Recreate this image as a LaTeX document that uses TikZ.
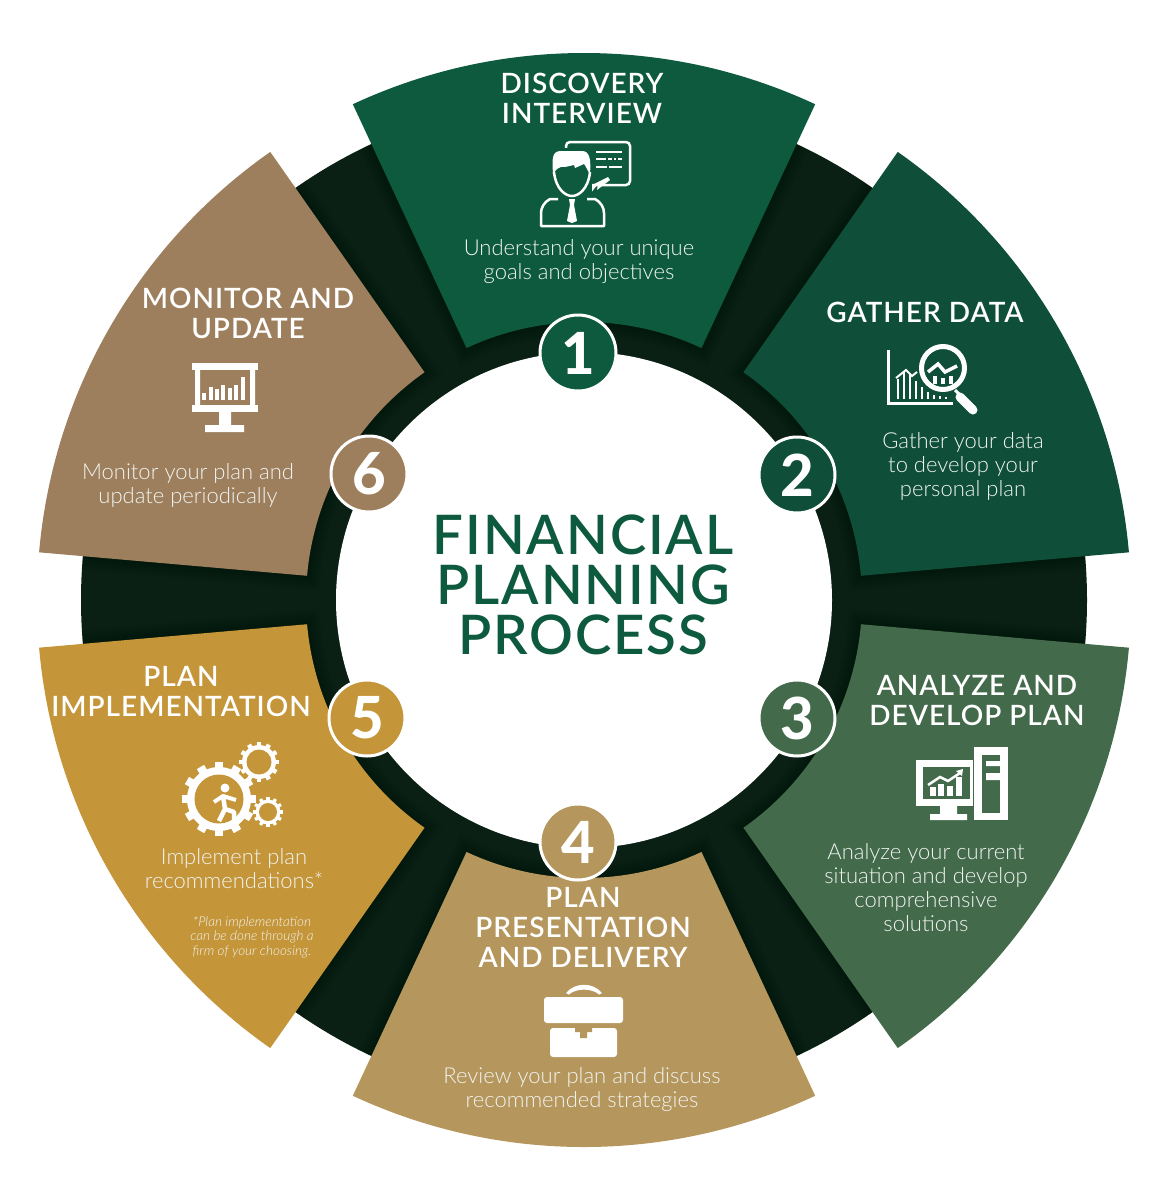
\documentclass[tikz,border=0pt]{standalone}
\usepackage{fontspec}
\setmainfont{Lato Light}[BoldFont=Lato Semibold,ItalicFont=Lato Light Italic]
\newfontfamily\numfont{Lato Heavy}
\newfontfamily\headfont{Lato Semibold}[LetterSpace=3.5]
\definecolor{ringdark}{HTML}{0B2014}
\definecolor{stepone}{HTML}{0E5A3E}
\definecolor{steptwo}{HTML}{0F4F39}
\definecolor{stepthree}{HTML}{436A4A}
\definecolor{stepfour}{HTML}{B5965C}
\definecolor{stepfive}{HTML}{C49539}
\definecolor{stepsix}{HTML}{9D7F5D}
\definecolor{bodytext}{HTML}{F1F4F1}
\tikzset{
  headtext/.style={text=white,font=\headfont\fontsize{28}{30}\selectfont,align=center,inner sep=0pt},
  bodynote/.style={text=bodytext,font=\fontsize{22}{24}\selectfont,align=center,inner sep=0pt},
  badge/.style={circle,draw=white,line width=3pt,minimum size=76pt,inner sep=0pt,text=white,font=\numfont\fontsize{58}{58}\selectfont},
  ico/.style={white,line width=2.5pt}
}
% one sector of the wheel, colour and middle angle
\newcommand{\sector}[2]{
  \fill[#1] (#2-25:278) -- (#2-25:547) arc[start angle=#2-25,end angle=#2+25,radius=547]
    -- (#2+25:278) arc[start angle=#2+25,end angle=#2-25,radius=278] -- cycle;
}
% cog wheel: x, y, outer, root, hole, teeth, back colour
\newcommand{\cogwheel}[7]{
  \pgfmathsetmacro{\toothstep}{360/#6}
  \pgfmathsetmacro{\toothwd}{0.5*3.14*2*#4/#6}
  \foreach \t in {1,...,#6}
    \draw[white,line width=\toothwd pt] (#1,#2) ++(\t*\toothstep:#4-1) -- ++(\t*\toothstep:#3-#4+1);
  \fill[white] (#1,#2) circle (#4);
  \fill[#7] (#1,#2) circle (#5);
}
\begin{document}
\begin{tikzpicture}[x=1pt,y=-1pt]
  \useasboundingbox (0,0) rectangle (1163,1200);
  \begin{scope}[shift={(584,600)},y=1pt]
    \fill[ringdark] (0,0) circle (503);
    \begin{scope}
      \clip (0,0) circle (503);
      \foreach \i in {1,...,8}
        \foreach \ang in {90,30,-30,-90,-150,150}
          \draw[black,opacity=0.025,line width=\i*3.5pt] (\ang-25:278) -- (\ang-25:547) arc[start angle=\ang-25,end angle=\ang+25,radius=547]
            -- (\ang+25:278) arc[start angle=\ang+25,end angle=\ang-25,radius=278] -- cycle;
    \end{scope}
    \fill[white] (0,0) circle (248);
    \sector{stepone}{90}
    \sector{steptwo}{30}
    \sector{stepthree}{-30}
    \sector{stepfour}{-90}
    \sector{stepfive}{-150}
    \sector{stepsix}{150}
  \end{scope}

  \node[badge,fill=stepone] (num1) at (578,353) {1};
  \node[badge,fill=steptwo] (num2) at (797,475) {2};
  \node[badge,fill=stepthree] (num3) at (797,718) {3};
  \node[badge,fill=stepfour] (num4) at (578,842) {4};
  \node[badge,fill=stepfive] (num5) at (367,718) {5};
  \node[badge,fill=stepsix] (num6) at (369,474) {6};

  \node[text=stepone,align=center,inner sep=0pt,font=\headfont\fontsize{54.5}{50}\selectfont] (title) at (583,585) {FINANCIAL\\PLANNING\\PROCESS};

  \node[headtext] (head1) at (582,98) {DISCOVERY\\INTERVIEW};
  \node[bodynote] (body1) at (579,262) {Understand your unique\\goals and objectives};
  \node[headtext] (head2) at (925,312) {GATHER DATA};
  \node[bodynote] (body2) at (963,466) {Gather your data\\to develop your\\personal plan};
  \node[headtext] (head3) at (977,701) {ANALYZE AND\\DEVELOP PLAN};
  \node[bodynote] (body3) at (926,888) {Analyze your current\\situation and develop\\comprehensive\\solutions};
  \node[headtext] (head4) at (583,927) {PLAN\\PRESENTATION\\AND DELIVERY};
  \node[bodynote] (body4) at (582,1090) {Review your plan and discuss\\recommended strategies};
  \node[headtext] (head5) at (181,692) {PLAN\\IMPLEMENTATION};
  \node[bodynote] (body5) at (234,869) {Implement plan\\recommendations*};
  \node[text=bodytext,align=center,inner sep=0pt,font=\itshape\fontsize{13.5}{14.5}\selectfont] (note5) at (252,937) {*Plan implementation\\can be done through a\\firm of your choosing.};
  \node[headtext] (head6) at (248,313) {MONITOR AND\\UPDATE};
  \node[bodynote] (body6) at (188,485) {Monitor your plan and\\update periodically};

  % person with speech bubble
  \draw[ico,rounded corners=4pt] (566,142) rectangle (630,185);
  \draw[white,line width=2pt] (596,152) -- (622,152) (596,159) -- (606,159) (608,159) -- (612,159) (614,159) -- (616,159) (618,159) -- (622,159) (596,167) -- (607,167) (609,167) -- (622,167);
  \fill[white] (608,177) -- (610,180) -- (597,190) -- (598,184) -- (590,194) -- (592,185) -- cycle;
  \fill[stepone] (550,148) rectangle (592,196);
  \draw[ico] (554,172) .. controls (556,190) and (566,196) .. (572,196) .. controls (578,196) and (588,190) .. (590,172);
  \fill[white] (553,174) .. controls (552,158) and (552,152) .. (560,151) -- (582,151) .. controls (590,151) and (591,160) .. (590,174) .. controls (587,170) and (586,166) .. (584,164) -- (575,168) -- (574,165) -- (565,167) .. controls (558,166) and (556,170) .. (553,174) -- cycle;
  \draw[ico,line join=round] (558,199) -- (550,199) .. controls (544,202) and (541,208) .. (541,213) -- (541,226) -- (604,226) -- (604,213) .. controls (604,208) and (601,202) .. (595,199) -- (587,199);
  \fill[white] (569,199) -- (575,199) -- (574,205) -- (577,221) -- (572,223) -- (567,221) -- (570,205) -- cycle;

  % chart under a magnifier
  \draw[white,line width=3pt] (888,350) -- (888,403) -- (953,403);
  \foreach \x/\h in {898/20,904/27,910/25,916/18,922/12,928/7,934/4,940/3,946/2}
    \draw[white,line width=2.5pt] (\x,399) -- ++(0,-\h);
  \draw[white,line width=2pt] (896,378) -- (906,370) -- (912,376) -- (917,372);
  \fill[steptwo] (943,368) circle (24);
  \draw[white,line width=5pt] (943,368) circle (21.5);
  \draw[white,line width=3.5pt] (928,372) -- (938,364) -- (945,372) -- (957,366);
  \foreach \x/\t in {935/376,943/378,951/376}
    \draw[white,line width=3.5pt] (\x,\t) -- (\x,384);
  \draw[white,line width=3pt] (955,390) -- (959,394);
  \draw[white,line width=9pt,line cap=round] (960,397) -- (973,410);

  % computer with rising chart
  \fill[white] (916,760) rectangle (973,806);
  \fill[stepthree] (923,767) rectangle (970,799);
  \fill[white] (940,806) rectangle (957,814) (930,814) rectangle (967,820);
  \fill[white] (974,747) rectangle (1008,820);
  \fill[stepthree] (982,755) rectangle (1000,813);
  \fill[white] (986,761) rectangle (1000,766) (986,773) rectangle (1000,780);
  \foreach \x/\t in {933/787,941/784,950/786,959/777}
    \fill[white] (\x-3,796) rectangle (\x+3,\t);
  \draw[white,line width=2.5pt] (928,785) -- (940,777) -- (948,781) -- (960,773);
  \fill[white] (956,771) -- (963,769) -- (962,776) -- cycle;

  % briefcase
  \fill[white,rounded corners=3pt] (544,997) rectangle (623,1023);
  \fill[white,rounded corners=3pt] (550,1028) rectangle (617,1057);
  \fill[stepfour] (575,1028) -- (575,1032) -- (580,1032) -- (580,1038) -- (587,1038) -- (587,1032) -- (592,1032) -- (592,1028) -- cycle;
  \fill[white] (566,993) .. controls (575,982) and (593,982) .. (602,993) -- (599,994.5) .. controls (592,988) and (576,988) .. (569,994.5) -- cycle;

  % gears with walking man
  \cogwheel{219}{799}{37}{32}{24.5}{12}{stepfive}
  \cogwheel{259}{762}{20}{17}{12.5}{12}{stepfive}
  \cogwheel{268}{812}{15}{12.5}{9}{12}{stepfive}
  \fill[white] (225,788) circle (4.5);
  \draw[white,line width=4pt,line join=round] (214,802) -- (223,796) -- (236,800);
  \draw[white,line width=4.5pt,line join=round] (223,796) -- (225,809) -- (219,821);
  \draw[white,line width=4.5pt,line join=round] (225,809) -- (234,812) -- (234,822);

  % presentation screen
  \fill[white] (192,363) rectangle (258,370);
  \fill[white] (192,405) rectangle (258,412);
  \fill[white] (195,370) rectangle (200,405) (250,370) rectangle (255,405);
  \fill[white] (219,412) rectangle (231,425) (205,425) rectangle (244,432);
  \foreach \x/\t in {204/393,210.5/387,216.5/389,223/385,229.5/388,236/385,243/377}
    \fill[white] (\x-2,400) rectangle (\x+2,\t);
\end{tikzpicture}
\end{document}
